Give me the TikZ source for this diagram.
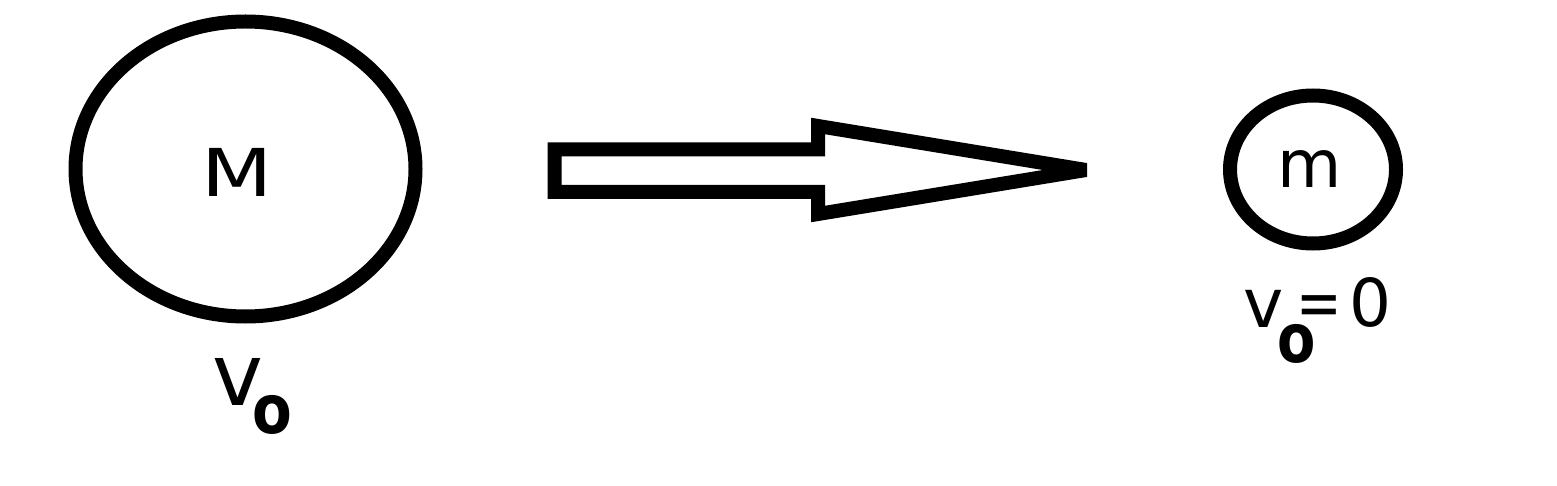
\documentclass[tikz,border=0pt]{standalone}
\usepackage{fontspec}
\setmainfont{DejaVu Sans}
\begin{document}
\begin{tikzpicture}[x=0.5pt,y=-0.5pt,
  outline/.style={draw=black,line width=7pt,line join=miter,miter limit=4},
  lbl/.style={inner sep=0pt,outer sep=0pt},
  sub/.style={inner sep=0pt,outer sep=0pt,font=\fontsize{34}{40}\selectfont\bfseries}]
\useasboundingbox[fill=white] (0,0) rectangle (1557,486);
% bodies
\draw[outline] (245.5,169) ellipse [x radius=170, y radius=147.5];
\draw[outline] (1313,169.5) ellipse [x radius=83, y radius=74];
% hollow arrow
\coordinate (a1) at (554.5,149.5);
\coordinate (a2) at (818,149.5);
\coordinate (a3) at (818,126);
\coordinate (tip) at (1086,170);
\coordinate (a5) at (818,214);
\coordinate (a6) at (818,192);
\coordinate (a7) at (554.5,192);
\draw[outline] (a1) -- (a2) -- (a3) -- (tip) -- (a5) -- (a6) -- (a7) -- cycle;
% labels
\node[lbl,font=\fontsize{33}{40}\selectfont] (M) at (237.5,172) {\scalebox{1.25}[1]{M}};
\node[lbl,font=\fontsize{33}{40}\selectfont] (m) at (1310,169) {m};
\node[lbl,font=\fontsize{43}{50}\selectfont] (v1) at (238,381.5) {v};
\node[sub] (o1) at (272,415) {\scalebox{0.85}[1]{o}};
\node[lbl,font=\fontsize{34}{40}\selectfont] (v2) at (1264,308.5) {v};
\node[sub] (o2) at (1297,344) {\scalebox{0.82}[1]{o}};
\node[lbl,font=\fontsize{34}{40}\selectfont] (eq) at (1319,311) {\scalebox{0.8}[1]{=}};
\node[lbl,font=\fontsize{33}{40}\selectfont] (zero) at (1370.5,302.5) {0};
\end{tikzpicture}
\end{document}
